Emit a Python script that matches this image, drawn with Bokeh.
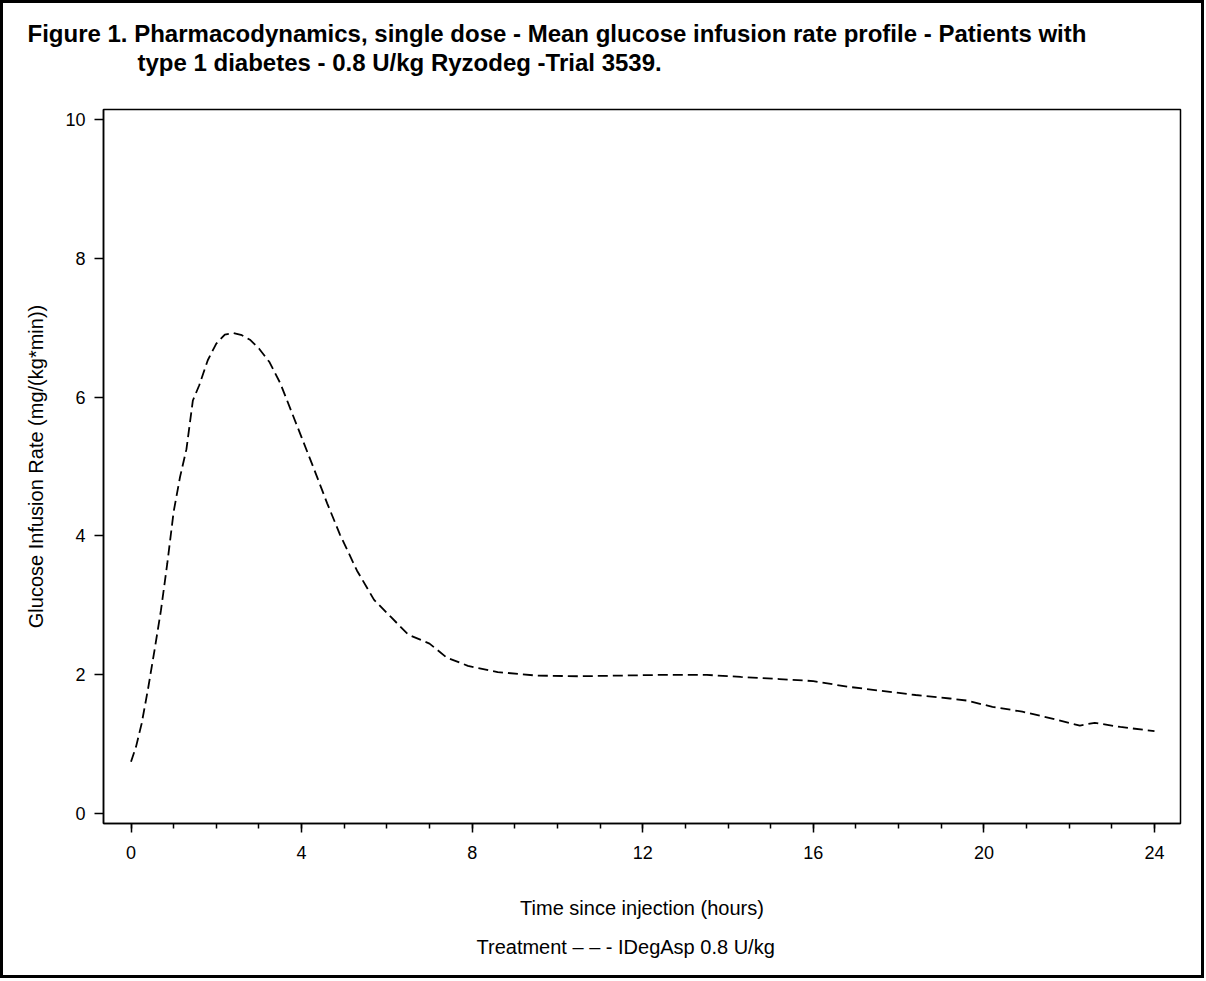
from bokeh.plotting import figure
from bokeh.models import Range1d, FixedTicker, Title, ColumnDataSource
from bokeh.embed import file_html
from bokeh.resources import INLINE

# ---- data ----
hours = [0, 0.12, 0.25, 0.4, 0.55, 0.7, 0.85, 1.0, 1.15, 1.3, 1.45, 1.6, 1.8,
         2.0, 2.2, 2.4, 2.6, 2.8, 3.0, 3.25, 3.5, 3.75, 4.0, 4.3, 4.6, 4.9,
         5.3, 5.7, 6.1, 6.5, 7.0, 7.4, 7.9, 8.6, 9.5, 10.5, 11.5, 12.5, 13.5,
         14.3, 15.2, 16.0, 16.8, 17.6, 18.4, 19.2, 19.6, 20.2, 20.9, 21.6,
         22.25, 22.6, 23.2, 24.0]
gir = [0.75, 0.97, 1.3, 1.8, 2.35, 2.92, 3.6, 4.35, 4.85, 5.25, 5.95, 6.17,
       6.53, 6.77, 6.9, 6.92, 6.89, 6.82, 6.7, 6.5, 6.2, 5.81, 5.42, 4.95,
       4.47, 4.02, 3.5, 3.08, 2.83, 2.58, 2.45, 2.25, 2.13, 2.04, 1.99, 1.98,
       1.99, 2.0, 2.0, 1.97, 1.94, 1.91, 1.83, 1.77, 1.71, 1.66, 1.63, 1.54,
       1.47, 1.37, 1.27, 1.31, 1.25, 1.19]
x_major = [0, 4, 8, 12, 16, 20, 24]
x_minor = list(range(0, 25))
y_major = [0, 2, 4, 6, 8, 10]

title_line1 = "Figure 1. Pharmacodynamics, single dose - Mean glucose infusion rate profile - Patients with"
title_line2 = "type 1 diabetes - 0.8 U/kg Ryzodeg -Trial 3539."
x_label = "Time since injection (hours)"
y_label = "Glucose Infusion Rate (mg/(kg*min))"
legend_title = "Treatment"
legend_sample = "\u2013 \u2013 -"
series_name = "IDegAsp 0.8 U/kg"

FONT = "Liberation Sans"

W, H = 1198, 972
p = figure(width=W, height=H, output_backend="svg", toolbar_location=None,
           x_range=Range1d(-0.645, 24.61), y_range=Range1d(-0.14, 10.14),
           min_border_left=100, min_border_right=21, min_border_top=106,
           min_border_bottom=152)
p.frame_width = 1077
p.frame_height = 714
p.styles = {"border": "3px solid black"}

p.grid.visible = False
p.background_fill_color = "white"
p.border_fill_color = "white"
p.outline_line_color = "black"
p.outline_line_width = 1.5

src = ColumnDataSource(dict(t=hours, v=gir))
r = p.line("t", "v", source=src, line_color="black", line_width=1.8,
           line_dash="10 5")

# axes
p.xaxis.ticker = FixedTicker(ticks=x_major, minor_ticks=x_minor)
p.yaxis.ticker = FixedTicker(ticks=y_major, minor_ticks=[])
for ax in (p.xaxis[0], p.yaxis[0]):
    ax.axis_line_color = "black"
    ax.axis_line_width = 1.5
    ax.major_tick_line_color = "black"
    ax.major_tick_line_width = 1.5
    ax.major_tick_out = 9
    ax.major_tick_in = 0
    ax.minor_tick_line_color = "black"
    ax.minor_tick_line_width = 1.5
    ax.minor_tick_out = 5
    ax.minor_tick_in = 0
    ax.major_label_text_font = FONT
    ax.major_label_text_font_size = "18px"
    ax.major_label_text_color = "black"
    ax.axis_label_text_font = FONT
    ax.axis_label_text_font_size = "20px"
    ax.axis_label_text_font_style = "normal"
    ax.axis_label_text_color = "black"

p.xaxis.axis_label = x_label
p.xaxis.major_label_standoff = 13
p.xaxis.axis_label_standoff = 35
p.yaxis.axis_label = y_label
p.yaxis.major_label_standoff = 9
p.yaxis.axis_label_standoff = 15

# legend line under the axis label (as a text line in the bottom panel)
p.add_layout(Title(text=f"{legend_title} {legend_sample} {series_name}",
                   align="left", offset=373, standoff=24,
                   text_font=FONT, text_font_size="20px",
                   text_font_style="normal", text_color="black"), "below")

# two-line title above the frame; a blank spacer line sits next to the frame
p.add_layout(Title(text=" ", standoff=5, text_font=FONT,
                   text_font_size="24px"), "above")
p.add_layout(Title(text=title_line2, align="left", offset=34, standoff=0,
                   text_font=FONT, text_font_size="24px",
                   text_font_style="bold", text_color="black"), "above")
p.add_layout(Title(text=title_line1, align="left", offset=-76, standoff=0,
                   text_font=FONT, text_font_size="24px",
                   text_font_style="bold", text_color="black"), "above")

open("out.html", "w").write(file_html(p, INLINE))
